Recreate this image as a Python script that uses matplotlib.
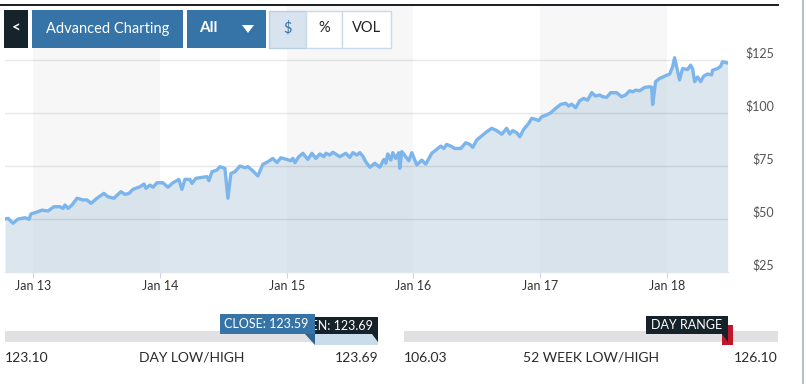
import matplotlib
matplotlib.use('Agg')
import matplotlib.pyplot as plt
from matplotlib.patches import Rectangle, Polygon
import matplotlib.transforms as mtransforms

plt.rcParams['font.family'] = ['Lato', 'DejaVu Sans']

# ---------------- data ----------------
years = [
    2012.779, 2012.803, 2012.842, 2012.882, 2012.937, 2012.968, 2012.984,
    2013.032, 2013.071, 2013.118, 2013.165, 2013.213, 2013.236, 2013.252,
    2013.276, 2013.307, 2013.347, 2013.394, 2013.426, 2013.457, 2013.504,
    2013.528, 2013.559, 2013.591, 2013.638, 2013.693, 2013.725, 2013.756,
    2013.788, 2013.843, 2013.875, 2013.890, 2013.922, 2013.946, 2013.977,
    2014.024, 2014.064, 2014.103, 2014.150, 2014.174, 2014.198, 2014.237,
    2014.253, 2014.284, 2014.340, 2014.371, 2014.387, 2014.411, 2014.450,
    2014.474, 2014.513, 2014.537, 2014.560, 2014.592, 2014.631, 2014.671,
    2014.694, 2014.726, 2014.773, 2014.812, 2014.852, 2014.891, 2014.923,
    2014.954, 2015.002, 2015.033, 2015.049, 2015.065, 2015.096, 2015.128,
    2015.167, 2015.199, 2015.230, 2015.262, 2015.293, 2015.309, 2015.340,
    2015.364, 2015.419, 2015.466, 2015.498, 2015.522, 2015.553, 2015.577,
    2015.600, 2015.624, 2015.656, 2015.695, 2015.734, 2015.766, 2015.782,
    2015.797, 2015.821, 2015.837, 2015.860, 2015.884, 2015.892, 2015.908,
    2015.939, 2015.963, 2015.987, 2016.026, 2016.065, 2016.097, 2016.144,
    2016.184, 2016.215, 2016.239, 2016.262, 2016.294, 2016.325, 2016.373,
    2016.412, 2016.444, 2016.467, 2016.499, 2016.546, 2016.578, 2016.617,
    2016.656, 2016.696, 2016.735, 2016.759, 2016.782, 2016.814, 2016.838,
    2016.869, 2016.908, 2016.932, 2016.964, 2016.987, 2017.011, 2017.050,
    2017.082, 2017.121, 2017.161, 2017.200, 2017.224, 2017.247, 2017.279,
    2017.310, 2017.342, 2017.373, 2017.405, 2017.436, 2017.468, 2017.492,
    2017.523, 2017.555, 2017.602, 2017.641, 2017.673, 2017.704, 2017.728,
    2017.752, 2017.783, 2017.823, 2017.862, 2017.878, 2017.886, 2017.909,
    2017.941, 2017.980, 2018.020, 2018.043, 2018.059, 2018.098, 2018.122,
    2018.161, 2018.185, 2018.201, 2018.217, 2018.240, 2018.264, 2018.288,
    2018.319, 2018.351, 2018.358, 2018.398, 2018.421, 2018.437, 2018.477,
]
prices = [
    50.0, 50.3, 48.0, 50.0, 50.6, 49.9, 52.4,
    53.3, 54.2, 53.8, 55.8, 55.8, 55.0, 56.6,
    55.0, 56.6, 59.8, 59.0, 59.0, 57.4, 59.8,
    60.8, 62.1, 60.5, 59.8, 62.9, 61.6, 62.1,
    64.0, 65.2, 66.5, 64.5, 66.0, 65.0, 67.1,
    67.1, 65.0, 67.1, 68.7, 64.0, 68.7, 68.7,
    66.8, 69.2, 69.7, 70.0, 68.1, 72.3, 73.1,
    74.7, 73.9, 59.8, 71.5, 72.3, 75.0, 74.2,
    74.7, 73.1, 70.3, 75.8, 77.0, 78.6, 76.6,
    78.9, 78.1, 77.5, 78.6, 76.6, 79.4, 81.0,
    78.1, 81.0, 78.6, 80.7, 79.4, 81.0, 80.2,
    81.5, 79.4, 81.0, 79.1, 81.3, 80.2, 81.3,
    79.7, 77.0, 74.4, 76.3, 74.4, 78.1, 76.3,
    80.7, 77.8, 81.3, 78.6, 81.3, 73.9, 81.8,
    79.4, 77.5, 81.3, 75.5, 77.8, 75.9, 81.0,
    82.9, 84.4, 83.3, 85.2, 84.4, 83.3, 83.3,
    86.0, 85.2, 83.8, 87.3, 89.6, 91.2, 92.8,
    91.7, 90.0, 92.8, 90.1, 91.7, 90.7, 88.8,
    92.3, 95.1, 97.5, 97.0, 96.4, 98.3, 99.1,
    100.1, 102.2, 104.1, 104.6, 103.3, 104.2, 102.5,
    105.8, 106.9, 106.1, 109.6, 108.0, 108.5, 107.7,
    107.4, 109.6, 109.6, 107.7, 108.5, 110.5, 110.0,
    110.8, 110.5, 112.1, 112.4, 112.2, 104.0, 114.8,
    116.3, 117.4, 118.4, 121.8, 126.1, 115.6, 121.0,
    120.5, 122.6, 120.8, 114.8, 117.0, 114.8, 117.4,
    118.4, 118.0, 120.2, 121.0, 122.0, 124.2, 123.6,
]
tick_years = [2013, 2014, 2015, 2016, 2017, 2018]
tick_labels = ['Jan 13', 'Jan 14', 'Jan 15', 'Jan 16', 'Jan 17', 'Jan 18']
band_years = [(2013, 2014), (2015, 2016), (2017, 2018)]
y_ticks = [25, 50, 75, 100, 125]
y_labels = ['$25', '$50', '$75', '$100', '$125']

day_low, day_high = 123.10, 123.69
close_price, open_price = 123.59, 123.69
wk_low, wk_high = 106.03, 126.10

# ---------------- figure ----------------
W, H = 806, 384
fig = plt.figure(figsize=(W / 100, H / 100), dpi=100)
fig.patch.set_facecolor('white')

ax = fig.add_axes([5 / W, (H - 272) / H, 723 / W, 266 / H])
ax.set_xlim(2012.779, 2018.48)
ax.set_ylim(25, 150.5)
for a, b in band_years:
    ax.axvspan(a, b, color='#f7f7f7', lw=0, zorder=0)
ax.fill_between(years, prices, 25, color='#c0d3e3', alpha=0.55, lw=0, zorder=1)
for yv in y_ticks[1:]:
    ax.axhline(yv, color=(0, 0, 0, 0.09), lw=1, zorder=2)
ax.plot(years, prices, color='#7cb5ec', lw=2.4, zorder=3,
        solid_joinstyle='round', solid_capstyle='round')

ax.set_xticks(tick_years)
ax.set_xticklabels(tick_labels)
ax.tick_params(axis='x', length=4, color='#ccd6eb', labelsize=9,
               labelcolor='#333333', pad=2)
ax.set_yticks([])
for s in ['top', 'left', 'right']:
    ax.spines[s].set_visible(False)
ax.spines['bottom'].set_color('#dfe5ec')
ax.spines['bottom'].set_linewidth(1)

blend = mtransforms.blended_transform_factory(ax.transAxes, ax.transData)
lab_tr = mtransforms.offset_copy(blend, fig=fig, x=0, y=7, units='dots')
for yv, lab in zip(y_ticks, y_labels):
    ax.text(1 + 46 / 723, yv, lab, transform=lab_tr, ha='right', va='center',
            fontsize=9, color='#555555')

# ---------------- overlay (toolbar, borders) ----------------
ov = fig.add_axes([0, 0, 1, 1])
ov.set_xlim(0, W)
ov.set_ylim(H, 0)
ov.axis('off')
ov.set_zorder(5)

ov.add_patch(Rectangle((0, 3.5), 779, 2.6, fc='#1f2328', ec='none'))
ov.plot([803, 803], [0, H], color='#a3b3ca', lw=1.2)
ov.add_patch(Rectangle((0, 6.1), 267, 41, fc='white', ec='none'))

blue = '#3674a8'
ov.add_patch(Rectangle((4, 10), 24, 38, fc='#15232a', ec='none'))
ov.text(16, 28.5, '<', color='white', fontsize=11, fontweight='bold',
        ha='center', va='center')
ov.add_patch(Rectangle((32, 10), 151, 38, fc=blue, ec='none'))
ov.text(107.5, 28.5, 'Advanced Charting', color='white', fontsize=10.5,
        ha='center', va='center')
ov.add_patch(Rectangle((187, 10), 79, 38, fc=blue, ec='none'))
ov.text(199, 28.5, 'All', color='white', fontsize=11, fontweight='bold',
        ha='left', va='center')
ov.add_patch(Polygon([(242, 25), (254, 25), (248, 33)], closed=True,
                     fc='white', ec='none'))
ov.add_patch(Rectangle((269, 10.5), 37, 37, fc='#d7e4ef', ec='#b9cfe4', lw=1))
ov.text(287.5, 28.5, '$', color=blue, fontsize=10.5, ha='center', va='center')
ov.add_patch(Rectangle((306, 10.5), 36, 37, fc='white', ec='#c9daea', lw=1))
ov.text(324, 28.5, '%', color='#222222', fontsize=10.5, ha='center', va='center')
ov.add_patch(Rectangle((342, 10.5), 49, 37, fc='white', ec='#c9daea', lw=1))
ov.text(366.5, 28.5, 'VOL', color='#222222', fontsize=10.5, ha='center',
        va='center')

# ---------------- range widgets ----------------
def range_axes(x0, x1, lo, hi):
    a = fig.add_axes([x0 / W, (H - 370) / H, (x1 - x0) / W, 65 / H])
    a.set_xlim(lo, hi)
    a.set_ylim(370, 305)
    a.axis('off')
    a.set_zorder(6)
    return a, (hi - lo) / (x1 - x0)

dark = '#15222a'
txt = '#2a2a2a'
ad, kd = range_axes(5, 378, day_low, day_high)
ad.add_patch(Rectangle((day_low, 331), day_high - day_low, 11, fc='#e1e1e4',
                       ec='none', clip_on=False, zorder=1))
ad.add_patch(Rectangle((close_price, 333), open_price - close_price, 12,
                       fc='#c9dcec', ec='none', clip_on=False, zorder=1.5))
ad.add_patch(Rectangle((open_price - 90 * kd, 317), 90 * kd, 17, fc=dark,
                       ec='none', clip_on=False, zorder=2))
ad.add_patch(Polygon([(open_price - 6 * kd, 334), (open_price, 334),
                      (open_price, 342)], fc=dark, ec='none', clip_on=False,
                     zorder=2))
open_clip = Rectangle((close_price, 317), open_price - close_price, 17,
                      transform=ad.transData)
t_open = ad.text(open_price - 5 * kd, 325.5, f'OPEN: {open_price:.2f}',
                 color='white', fontsize=9, ha='right', va='center', zorder=3)
t_open.set_clip_path(open_clip)
ad.add_patch(Rectangle((close_price - 95 * kd, 314), 95 * kd, 20, fc=blue,
                       ec='none', clip_on=False, zorder=4))
ad.add_patch(Polygon([(close_price - 10 * kd, 334), (close_price, 334),
                      (close_price, 345)], fc='#2c6494', ec='none',
                     clip_on=False, zorder=4))
ad.text(close_price - 6 * kd, 324, f'CLOSE: {close_price:.2f}', color='white',
        fontsize=9, ha='right', va='center', zorder=5)
ad.text(day_low, 358, f'{day_low:.2f}', color=txt, fontsize=10,
        ha='left', va='center')
ad.text((day_low + day_high) / 2, 358, 'DAY LOW/HIGH', color=txt,
        fontsize=10, ha='center', va='center')
ad.text(day_high, 358, f'{day_high:.2f}', color=txt, fontsize=10,
        ha='right', va='center')

aw, kw = range_axes(404, 778, wk_low, wk_high)
aw.add_patch(Rectangle((wk_low, 331), wk_high - wk_low, 11, fc='#e1e1e4',
                       ec='none', clip_on=False, zorder=1))
aw.add_patch(Rectangle((day_low, 325), day_high - day_low, 20, fc='#c0182b',
                       ec='none', clip_on=False, zorder=2))
mid = (day_low + day_high) / 2
aw.add_patch(Rectangle((mid - 82 * kw, 316), 82 * kw, 18, fc=dark,
                       ec='none', clip_on=False, zorder=3))
aw.add_patch(Polygon([(mid - 6 * kw, 334), (mid, 334), (mid, 342)], fc=dark,
                     ec='none', clip_on=False, zorder=3))
aw.text(mid - 41 * kw, 325, 'DAY RANGE', color='white', fontsize=9,
        ha='center', va='center', zorder=4)
aw.text(wk_low, 358, f'{wk_low:.2f}', color=txt, fontsize=10,
        ha='left', va='center')
aw.text((wk_low + wk_high) / 2, 358, '52 WEEK LOW/HIGH', color=txt,
        fontsize=10, ha='center', va='center')
aw.text(wk_high, 358, f'{wk_high:.2f}', color=txt, fontsize=10,
        ha='right', va='center')

fig.savefig('out.png', dpi=100, facecolor='white')
